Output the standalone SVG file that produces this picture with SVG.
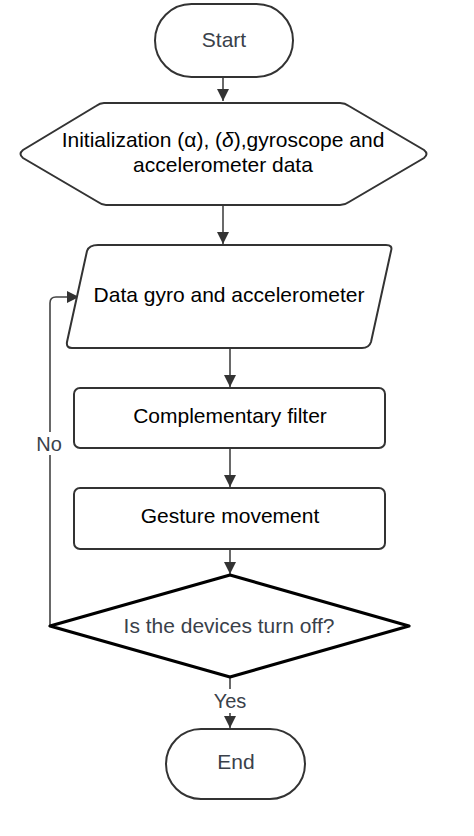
<svg xmlns="http://www.w3.org/2000/svg" width="474" height="836" viewBox="0 0 474 836">
<style>
.n{fill:#fff;stroke:#333;stroke-width:2}
.d{fill:#fff;stroke:#000;stroke-width:3.2;stroke-linejoin:round}
.t{font-family:"Liberation Sans",Arial,sans-serif;font-size:21px;text-anchor:middle;fill:#000}
.g{fill:#3a414a}
.c{fill:none;stroke:#444;stroke-width:1.6}
.l{font-family:"Liberation Sans",Arial,sans-serif;font-size:20px;text-anchor:middle;fill:#3a414a}
</style>
<defs>
<marker id="a" markerWidth="12" markerHeight="12" refX="10" refY="5" orient="auto" markerUnits="userSpaceOnUse" viewBox="0 0 10 10">
<path d="M0,0 L10,5 L0,10 z" fill="#333"/>
</marker>
</defs>
<g id="connectors">
<path class="c" d="M223,77 V101" marker-end="url(#a)"/>
<path class="c" d="M223,206 V244" marker-end="url(#a)"/>
<path class="c" d="M230,348 V387" marker-end="url(#a)"/>
<path class="c" d="M230,448 V487" marker-end="url(#a)"/>
<path class="c" d="M230,549 V574" marker-end="url(#a)"/>
<path class="c" d="M230,677 V689"/>
<path class="c" d="M230,713 V728" marker-end="url(#a)"/>
<path class="c" d="M50,626 V455 M50,432 V303 Q50,297 56,297 H79" marker-end="url(#a)"/>
<text class="l" x="49" y="451">No</text>
<text class="l" x="230" y="708">Yes</text>
</g>
<g id="start">
<rect class="n" x="155" y="4" width="138" height="73" rx="36.5"/>
<text class="t g" x="224" y="47">Start</text>
</g>
<g id="init">
<path class="n" d="M104,103 H340 Q345,103 349,106 L424,150 Q429,154 424,158 L349,202 Q345,205 340,205 H106 Q102,205 98,202 L23,158 Q18,154 23,150 L96,106 Q100,103 104,103 z"/>
<text class="t" x="223" y="147">Initialization (α), (<tspan font-style="italic">δ</tspan>),gyroscope and</text>
<text class="t" x="223" y="172">accelerometer data</text>
</g>
<g id="data">
<path class="n" d="M98,245 H386 Q393,245 391,251 L371,342 Q369,348 362,348 H72 Q66,348 67,342 L87,251 Q89,245 98,245 z"/>
<text class="t" x="229" y="302">Data gyro and accelerometer</text>
</g>
<g id="filter">
<rect class="n" x="74" y="388" width="311" height="60" rx="6"/>
<text class="t" x="230" y="423">Complementary filter</text>
</g>
<g id="gesture">
<rect class="n" x="74" y="488" width="311" height="61" rx="6"/>
<text class="t" x="230" y="523">Gesture movement</text>
</g>
<g id="decision">
<path class="d" d="M230,575 L409,626 L230,677 L50,626 z"/>
<text class="t g" x="229" y="633">Is the devices turn off?</text>
</g>
<g id="end">
<rect class="n" x="166" y="729" width="139" height="70" rx="35"/>
<text class="t g" x="236" y="769">End</text>
</g>
</svg>
